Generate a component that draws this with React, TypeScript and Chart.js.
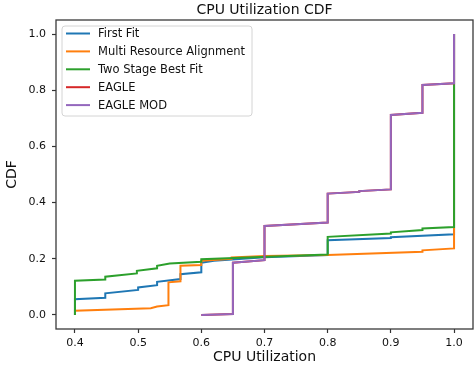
import React, { useEffect, useRef } from "react";
import { Chart, registerables } from "chart.js";

Chart.register(...registerables);

const chartTitle = "CPU Utilization CDF";
const xAxisTitle = "CPU Utilization";
const yAxisTitle = "CDF";

const seriesLabels = ["First Fit", "Multi Resource Alignment", "Two Stage Best Fit", "EAGLE", "EAGLE MOD"];
const seriesColors = ["#1f77b4", "#ff7f0e", "#2ca02c", "#d62728", "#9467bd"];

const firstFitX = [0.4, 0.4, 0.448, 0.448, 0.5, 0.5, 0.53, 0.53, 0.567, 0.567, 0.6, 0.6, 0.62, 0.7, 0.8, 0.8, 0.9, 0.9, 1.0, 1.0];
const firstFitY = [0.0, 0.056, 0.061, 0.077, 0.089, 0.098, 0.106, 0.118, 0.128, 0.145, 0.152, 0.186, 0.193, 0.205, 0.213, 0.266, 0.274, 0.277, 0.287, 1.0];

const mraX = [0.4, 0.4, 0.52, 0.53, 0.548, 0.548, 0.567, 0.567, 0.6, 0.6, 0.648, 0.648, 0.7, 0.8, 0.95, 0.95, 1.0, 1.0];
const mraY = [0.0, 0.015, 0.024, 0.03, 0.035, 0.116, 0.12, 0.175, 0.178, 0.193, 0.2, 0.205, 0.21, 0.213, 0.225, 0.23, 0.237, 1.0];

const twoStageX = [0.4, 0.4, 0.448, 0.448, 0.498, 0.498, 0.53, 0.53, 0.55, 0.6, 0.6, 0.8, 0.8, 0.9, 0.9, 0.95, 0.95, 1.0, 1.0];
const twoStageY = [0.0, 0.122, 0.126, 0.136, 0.148, 0.157, 0.166, 0.175, 0.183, 0.189, 0.198, 0.215, 0.278, 0.29, 0.294, 0.302, 0.308, 0.313, 1.0];

const eagleX = [0.6, 0.65, 0.65, 0.7, 0.7, 0.8, 0.8, 0.85, 0.85, 0.9, 0.9, 0.95, 0.95, 1.0, 1.0];
const eagleY = [0.0, 0.003, 0.186, 0.195, 0.317, 0.329, 0.432, 0.438, 0.441, 0.447, 0.712, 0.72, 0.819, 0.825, 1.0];

const eagleModX = [0.6, 0.65, 0.65, 0.7, 0.7, 0.8, 0.8, 0.85, 0.85, 0.9, 0.9, 0.95, 0.95, 1.0, 1.0];
const eagleModY = [0.0, 0.003, 0.186, 0.195, 0.317, 0.329, 0.432, 0.438, 0.441, 0.447, 0.712, 0.72, 0.819, 0.825, 1.0];

const xTicks = [0.4, 0.5, 0.6, 0.7, 0.8, 0.9, 1.0];
const yTicks = [0.0, 0.2, 0.4, 0.6, 0.8, 1.0];

const FONT = "'DejaVu Sans', sans-serif";

const toPoints = (xs: number[], ys: number[]) => xs.map((x, i) => ({ x, y: ys[i] }));

const frameAndLegend = {
  id: "frameAndLegend",
  afterDatasetsDraw(chart: any) {
    const { ctx, chartArea } = chart;
    const { left, top, right, bottom } = chartArea;
    ctx.save();
    // frame (spines)
    ctx.strokeStyle = "#3a3a3a";
    ctx.lineWidth = 1.3;
    ctx.strokeRect(left, top, right - left, bottom - top);
    // legend
    const bx = left + 6, by = top + 6, bw = 190, bh = 90, r = 3;
    ctx.beginPath();
    ctx.moveTo(bx + r, by);
    ctx.lineTo(bx + bw - r, by);
    ctx.quadraticCurveTo(bx + bw, by, bx + bw, by + r);
    ctx.lineTo(bx + bw, by + bh - r);
    ctx.quadraticCurveTo(bx + bw, by + bh, bx + bw - r, by + bh);
    ctx.lineTo(bx + r, by + bh);
    ctx.quadraticCurveTo(bx, by + bh, bx, by + bh - r);
    ctx.lineTo(bx, by + r);
    ctx.quadraticCurveTo(bx, by, bx + r, by);
    ctx.closePath();
    ctx.fillStyle = "rgba(255,255,255,0.8)";
    ctx.fill();
    ctx.strokeStyle = "#d4d4d4";
    ctx.lineWidth = 1;
    ctx.stroke();
    ctx.font = `11.5px ${FONT}`;
    ctx.textBaseline = "middle";
    ctx.textAlign = "left";
    chart.data.datasets.forEach((ds: any, i: number) => {
      const y = by + 7.5 + i * 17.9;
      ctx.strokeStyle = ds.borderColor;
      ctx.lineWidth = 2;
      ctx.beginPath();
      ctx.moveTo(bx + 4, y);
      ctx.lineTo(bx + 28, y);
      ctx.stroke();
      ctx.fillStyle = "#111";
      ctx.fillText(ds.label, bx + 36, y + 0.5);
    });
    // title
    ctx.font = `14px ${FONT}`;
    ctx.textAlign = "center";
    ctx.textBaseline = "middle";
    ctx.fillStyle = "#111";
    ctx.fillText(chartTitle, (left + right) / 2, 10);
    ctx.restore();
  },
};

export default function App() {
  const canvasRef = useRef<HTMLCanvasElement | null>(null);

  useEffect(() => {
    document.body.style.margin = "0";
    const canvas = canvasRef.current;
    if (!canvas) return;
    const xs = [firstFitX, mraX, twoStageX, eagleX, eagleModX];
    const ys = [firstFitY, mraY, twoStageY, eagleY, eagleModY];
    const chart = new Chart(canvas, {
      type: "line",
      data: {
        datasets: seriesLabels.map((label, i) => ({
          label,
          data: toPoints(xs[i], ys[i]),
          borderColor: seriesColors[i],
          backgroundColor: seriesColors[i],
          borderWidth: 2,
          pointRadius: 0,
          pointHoverRadius: 0,
          tension: 0,
          fill: false,
          order: seriesLabels.length - 1 - i,
        })),
      },
      options: {
        responsive: false,
        animation: false,
        parsing: true,
        layout: { padding: { left: 0, right: 1, top: 20, bottom: 0 } },
        plugins: {
          legend: { display: false },
          title: { display: false },
          tooltip: { enabled: false },
        },
        scales: {
          x: {
            type: "linear",
            min: 0.37,
            max: 1.03,
            afterBuildTicks: (axis: any) => {
              axis.ticks = xTicks.map((v) => ({ value: v }));
            },
            afterFit: (scale: any) => {
              scale.height = 37;
            },
            grid: { display: true, drawOnChartArea: false, drawTicks: true, tickLength: 4, tickColor: "#333", tickWidth: 1.2 },
            border: { display: false },
            ticks: {
              color: "#111",
              font: { family: FONT, size: 11 },
              padding: 4,
              maxRotation: 0,
              autoSkip: false,
              callback: (v: any) => Number(v).toFixed(1),
            },
            title: { display: true, text: xAxisTitle, color: "#111", font: { family: FONT, size: 14 }, padding: { top: 0, bottom: 0 } },
          },
          y: {
            type: "linear",
            min: -0.05,
            max: 1.05,
            afterBuildTicks: (axis: any) => {
              axis.ticks = yTicks.map((v) => ({ value: v }));
            },
            afterFit: (scale: any) => {
              scale.width = 56;
            },
            grid: { display: true, drawOnChartArea: false, drawTicks: true, tickLength: 4, tickColor: "#333", tickWidth: 1.2 },
            border: { display: false },
            ticks: {
              color: "#111",
              font: { family: FONT, size: 11 },
              padding: 6,
              autoSkip: false,
              callback: (v: any) => Number(v).toFixed(1),
            },
            title: { display: true, text: yAxisTitle, color: "#111", font: { family: FONT, size: 14 }, padding: { top: 4, bottom: 0 } },
          },
        },
      },
      plugins: [frameAndLegend],
    });
    return () => chart.destroy();
  }, []);

  return (
    <div style={{ width: 474, height: 366, background: "#fff" }}>
      <canvas ref={canvasRef} width={474} height={366} style={{ display: "block" }} />
    </div>
  );
}
